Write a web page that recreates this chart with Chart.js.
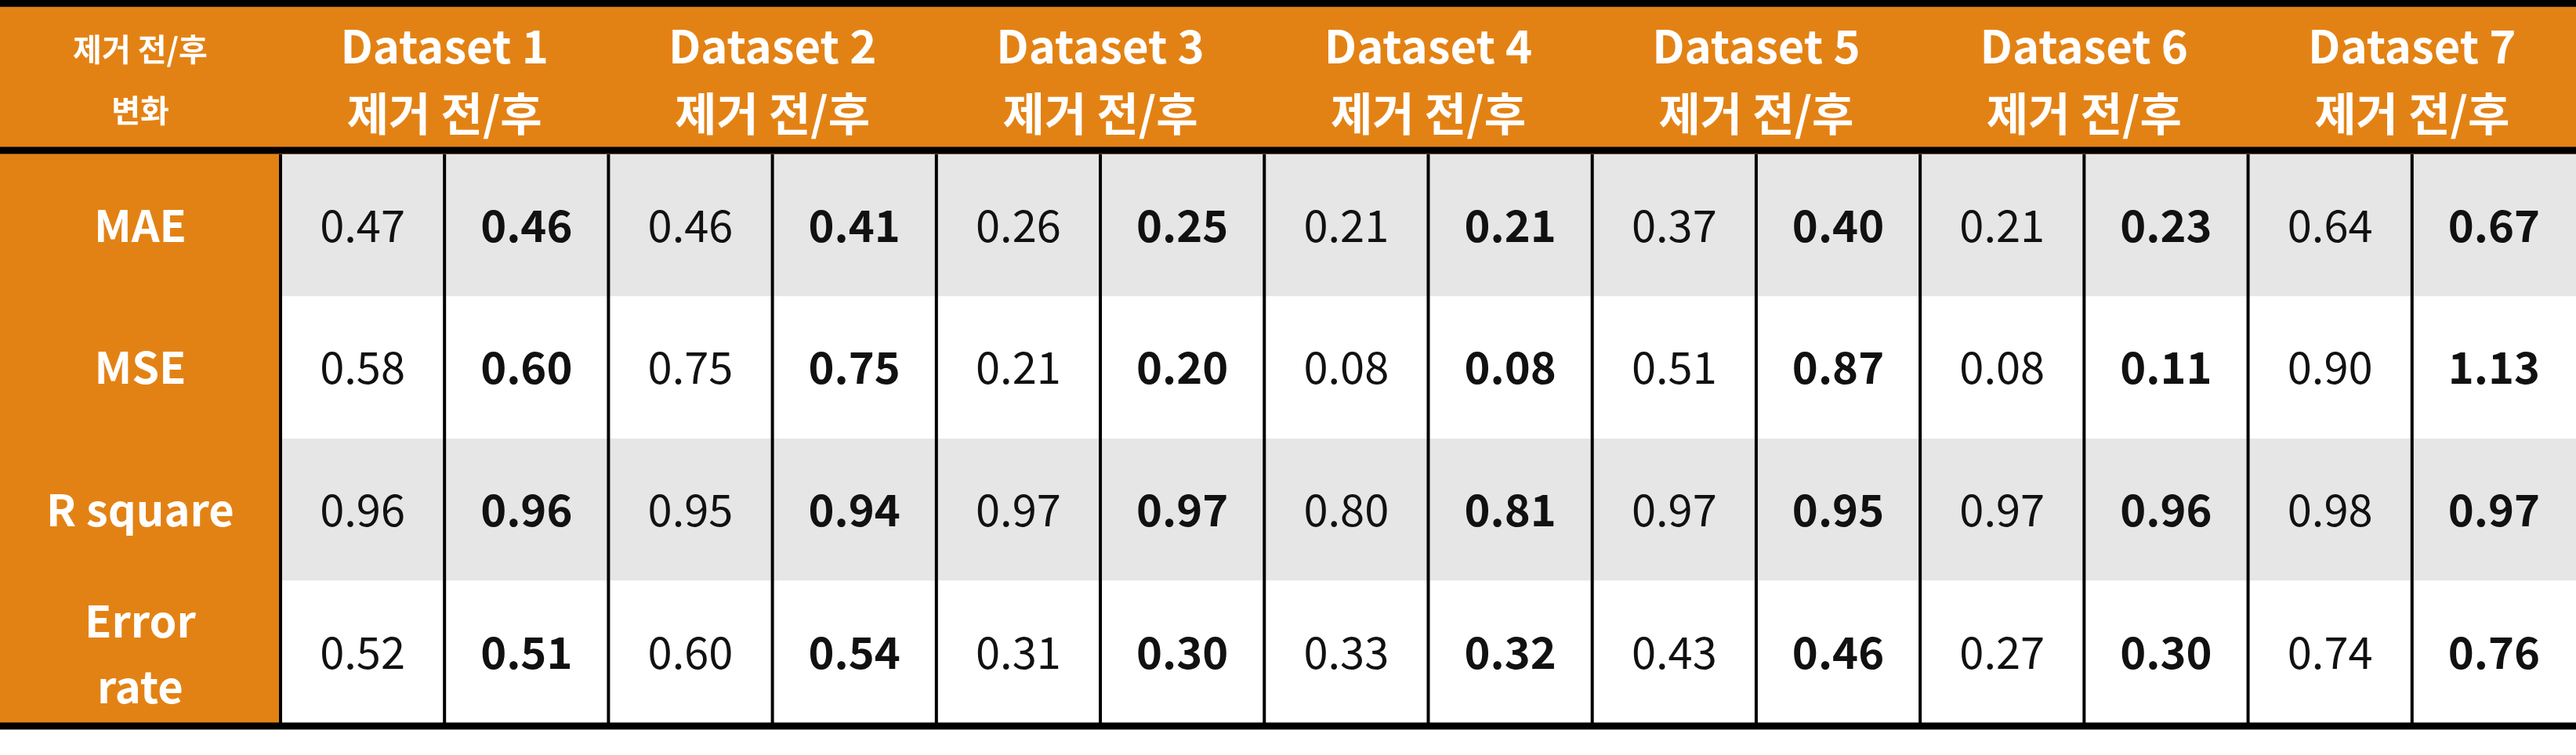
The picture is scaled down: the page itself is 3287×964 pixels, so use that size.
<!DOCTYPE html>
<html><head><meta charset="utf-8">
<script src="https://cdn.jsdelivr.net/npm/chart.js@4"></script>
<style>html,body{margin:0;padding:0;background:#fff}canvas{display:block}</style>
</head><body>
<canvas id="c" width="3287" height="964"></canvas>
<script>
const cornerLabel = ["제거 전/후", "변화"];
const datasets = ["Dataset 1","Dataset 2","Dataset 3","Dataset 4","Dataset 5","Dataset 6","Dataset 7"];
const subHeader = "제거 전/후";
const metrics = [["MAE"],["MSE"],["R square"],["Error","rate"]];
const mae     = [0.47,0.46, 0.46,0.41, 0.26,0.25, 0.21,0.21, 0.37,0.40, 0.21,0.23, 0.64,0.67];
const mse     = [0.58,0.60, 0.75,0.75, 0.21,0.20, 0.08,0.08, 0.51,0.87, 0.08,0.11, 0.90,1.13];
const rsq     = [0.96,0.96, 0.95,0.94, 0.97,0.97, 0.80,0.81, 0.97,0.95, 0.97,0.96, 0.98,0.97];
const errRate = [0.52,0.51, 0.60,0.54, 0.31,0.30, 0.33,0.32, 0.43,0.46, 0.27,0.30, 0.74,0.76];
const rows = [mae, mse, rsq, errRate];

const ORANGE = '#E38214', GRAY = '#E6E6E6';
const FONT = '"Noto Sans CJK KR","Noto Sans",sans-serif';

const tablePlugin = {
  id: 'table',
  afterDraw(chart) {
    const ctx = chart.ctx, xs = chart.scales.x, ys = chart.scales.y;
    const X = v => xs.getPixelForValue(v), Y = v => ys.getPixelForValue(v);
    const nCols = datasets.length * 2;
    ctx.save();
    // header background
    ctx.fillStyle = ORANGE;
    ctx.fillRect(X(xs.min), Y(-1.04), X(nCols) - X(xs.min), Y(0) - Y(-1.04));
    // left column
    ctx.fillRect(X(xs.min), Y(0), X(0) - X(xs.min), Y(4) - Y(0));
    // row backgrounds
    rows.forEach((r, i) => {
      ctx.fillStyle = i % 2 === 0 ? GRAY : '#fff';
      ctx.fillRect(X(0), Y(i), X(nCols) - X(0), Y(i + 1) - Y(i));
    });
    ctx.textAlign = 'center'; ctx.textBaseline = 'middle';
    ctx.fillStyle = '#fff';
    // corner
    ctx.font = 'bold 40px ' + FONT;
    const cx = X((xs.min) / 2), hm = Y(-0.53);
    ctx.fillText(cornerLabel[0], cx, hm - 38);
    ctx.fillText(cornerLabel[1], cx, hm + 40);
    // dataset headers
    ctx.font = 'bold 58px ' + FONT;
    datasets.forEach((d, i) => {
      const x = X(i * 2 + 1);
      ctx.fillText(d, x, hm - 42);
      ctx.fillText(subHeader, x, hm + 44);
    });
    // metric labels
    ctx.font = 'bold 56px ' + FONT;
    metrics.forEach((m, i) => {
      const ym = Y(i + 0.5);
      if (m.length === 1) ctx.fillText(m[0], cx, ym);
      else { ctx.fillText(m[0], cx, ym - 40); ctx.fillText(m[1], cx, ym + 44); }
    });
    // values
    ctx.fillStyle = '#111';
    rows.forEach((r, i) => {
      r.forEach((v, j) => {
        ctx.font = (j % 2 ? 'bold ' : '') + '56px ' + FONT;
        ctx.fillText(v.toFixed(2), X(j + 0.5), Y(i + 0.5));
      });
    });
    // vertical lines
    ctx.strokeStyle = '#000'; ctx.lineWidth = 4;
    for (let j = 0; j < nCols; j++) {
      ctx.beginPath(); ctx.moveTo(X(j), Y(0)); ctx.lineTo(X(j), Y(4)); ctx.stroke();
    }
    // horizontal thick lines
    ctx.lineWidth = 9;
    [[-1.04, -4], [0, -5], [4, 4]].forEach(([v, off]) => {
      ctx.beginPath(); ctx.moveTo(X(xs.min), Y(v) + off); ctx.lineTo(X(nCols), Y(v) + off); ctx.stroke();
    });
    ctx.restore();
  }
};

new Chart(document.getElementById('c'), {
  type: 'scatter',
  data: { datasets: [{ data: [] }] },
  options: {
    responsive: false, animation: false, devicePixelRatio: 1,
    layout: { padding: 0 },
    plugins: { legend: { display: false }, tooltip: { enabled: false } },
    scales: {
      x: { type: 'linear', min: -1.711, max: 14, display: false },
      y: { type: 'linear', min: -1.085, max: 4.226, reverse: true, display: false }
    }
  },
  plugins: [tablePlugin]
});
</script>
</body></html>
